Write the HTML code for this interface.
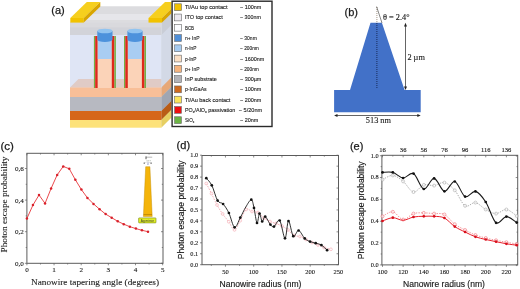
<!DOCTYPE html>
<html><head><meta charset="utf-8"><title>Nanowire figure</title>
<style>
html,body{margin:0;padding:0;background:#fff;}
body{width:520px;height:289px;overflow:hidden;}
svg{display:block;}
</style></head><body>
<svg width="520" height="289" viewBox="0 0 520 289">
<defs><clipPath id="ce"><rect x="381.9" y="155.7" width="135.6" height="109.2"/></clipPath></defs>
<rect width="520" height="289" fill="#fff"/>
<text x="51.3" y="13.6" font-family="'Liberation Sans', Arial, sans-serif" font-size="11.5" fill="#1a1a1a" stroke="#1a1a1a" stroke-width="0.25" textLength="13.5" lengthAdjust="spacingAndGlyphs">(a)</text>
<polygon points="70,22.4 86,6.2 177.3,6.2 161.3,22.4" fill="#dcdcdf"/>
<rect x="78" y="14" width="99.3" height="6" fill="#e6e6ea"/>
<polygon points="161.3,22.4 177.3,6.2 177.3,110 161.3,126.4" fill="#c9cdd6"/>
<polygon points="161.3,35 177.3,19 177.3,72 161.3,88" fill="#d3d9e6"/>
<polygon points="161.3,87.4 177.3,71.4 177.3,81 161.3,97" fill="#e7a878"/>
<polygon points="161.3,97 177.3,81 177.3,95 161.3,111" fill="#a0a6b2"/>
<polygon points="161.3,111 177.3,95 177.3,104 161.3,120" fill="#b95c16"/>
<polygon points="161.3,120 177.3,104 177.3,111.7 161.3,127.7" fill="#e6cf62"/>
<rect x="70" y="22.4" width="91.3" height="12.6" fill="#d2d3d9"/>
<rect x="70" y="22.4" width="91.3" height="5" fill="#d9d9dd"/>
<rect x="70" y="35" width="91.3" height="53" fill="#dfe5f5"/>
<polygon points="70,87.4 78.5,78.9 161.3,78.9 161.3,87.4" fill="#e0cbc6"/>
<rect x="70" y="87.4" width="91.3" height="9.6" fill="#f8bf98"/>
<rect x="70" y="97" width="91.3" height="14" fill="#b7b9c1"/>
<rect x="70" y="111" width="91.3" height="9" fill="#d6661a"/>
<rect x="70" y="120" width="91.3" height="7.7" fill="#fde27a"/>
<rect x="93.9" y="36" width="1.4" height="52" fill="#72b044"/>
<rect x="95.2" y="36" width="2.6" height="52" fill="#e0281a"/>
<rect x="97.8" y="36" width="14" height="52" fill="#fbd3b8"/>
<rect x="97.8" y="36" width="14" height="23" fill="#a9cdf2"/>
<rect x="111.8" y="36" width="2.6" height="52" fill="#e0281a"/>
<rect x="114.4" y="36" width="1.5" height="52" fill="#72b044"/>
<path d="M97.3,31 L97.3,39.5 A7.6,2.6 0 0 0 112.5,39.5 L112.5,31 Z" fill="#4d92dc"/>
<ellipse cx="104.9" cy="31" rx="7.6" ry="2.3" fill="#92c4f0"/>
<rect x="124" y="36" width="1.4" height="52" fill="#72b044"/>
<rect x="125.3" y="36" width="2.6" height="52" fill="#e0281a"/>
<rect x="127.9" y="36" width="14" height="52" fill="#fbd3b8"/>
<rect x="127.9" y="36" width="14" height="23" fill="#a9cdf2"/>
<rect x="141.9" y="36" width="2.6" height="52" fill="#e0281a"/>
<rect x="144.5" y="36" width="1.5" height="52" fill="#72b044"/>
<path d="M127.4,31 L127.4,39.5 A7.6,2.6 0 0 0 142.6,39.5 L142.6,31 Z" fill="#4d92dc"/>
<ellipse cx="135" cy="31" rx="7.6" ry="2.3" fill="#92c4f0"/>
<polygon points="70.3,18 86.8,2 100.3,2 83.8,18" fill="#f6cf1e"/>
<rect x="70.3" y="18" width="13.5" height="4.6" fill="#f1c200"/>
<polygon points="83.8,18 100.3,2 100.3,6.6 83.8,22.6" fill="#d9a500"/>
<polygon points="148.5,18 165,2 178.5,2 162,18" fill="#f6cf1e"/>
<rect x="148.5" y="18" width="13.5" height="4.6" fill="#f1c200"/>
<polygon points="162,18 178.5,2 178.5,6.6 162,22.6" fill="#d9a500"/>
<rect x="171.4" y="-1" width="120" height="140" fill="#ffffff"/>
<rect x="172.1" y="1.2" width="99.9" height="125.3" fill="#ffffff" stroke="#2a2a2a" stroke-width="1.4"/>
<rect x="174.6" y="3.8" width="6.8" height="6.8" fill="#f2c200" stroke="#666" stroke-width="0.6"/>
<text x="185" y="9.2" font-family="'Liberation Sans', Arial, sans-serif" font-size="6.0" fill="#1a1a1a" stroke="#1a1a1a" stroke-width="0.12" textLength="42.5" lengthAdjust="spacingAndGlyphs">Ti/Au top contact</text>
<text x="240" y="9.2" font-family="'Liberation Sans', Arial, sans-serif" font-size="6.0" fill="#1a1a1a" stroke="#1a1a1a" stroke-width="0.12" textLength="21.4" lengthAdjust="spacingAndGlyphs">~ 100nm</text>
<rect x="174.6" y="14.07" width="6.8" height="6.8" fill="#ece8f0" stroke="#666" stroke-width="0.6"/>
<text x="185" y="19.47" font-family="'Liberation Sans', Arial, sans-serif" font-size="6.0" fill="#1a1a1a" stroke="#1a1a1a" stroke-width="0.12" textLength="37.9" lengthAdjust="spacingAndGlyphs">ITO top contact</text>
<text x="240" y="19.47" font-family="'Liberation Sans', Arial, sans-serif" font-size="6.0" fill="#1a1a1a" stroke="#1a1a1a" stroke-width="0.12" textLength="20.9" lengthAdjust="spacingAndGlyphs">~ 300nm</text>
<rect x="174.6" y="24.34" width="6.8" height="6.8" fill="#fbfcff" stroke="#666" stroke-width="0.6"/>
<text x="185" y="29.74" font-family="'Liberation Sans', Arial, sans-serif" font-size="6.0" fill="#1a1a1a" stroke="#1a1a1a" stroke-width="0.12" textLength="9" lengthAdjust="spacingAndGlyphs">BCB</text>
<rect x="174.6" y="34.61" width="6.8" height="6.8" fill="#4f8fd8" stroke="#666" stroke-width="0.6"/>
<text x="185" y="40.01" font-family="'Liberation Sans', Arial, sans-serif" font-size="6.0" fill="#1a1a1a" stroke="#1a1a1a" stroke-width="0.12" textLength="14.6" lengthAdjust="spacingAndGlyphs">n+ InP</text>
<text x="240" y="40.01" font-family="'Liberation Sans', Arial, sans-serif" font-size="6.0" fill="#1a1a1a" stroke="#1a1a1a" stroke-width="0.12" textLength="16.8" lengthAdjust="spacingAndGlyphs">~ 30nm</text>
<rect x="174.6" y="44.88" width="6.8" height="6.8" fill="#a6cbf0" stroke="#666" stroke-width="0.6"/>
<text x="185" y="50.28" font-family="'Liberation Sans', Arial, sans-serif" font-size="6.0" fill="#1a1a1a" stroke="#1a1a1a" stroke-width="0.12" textLength="11.5" lengthAdjust="spacingAndGlyphs">n-InP</text>
<text x="240" y="50.28" font-family="'Liberation Sans', Arial, sans-serif" font-size="6.0" fill="#1a1a1a" stroke="#1a1a1a" stroke-width="0.12" textLength="18.9" lengthAdjust="spacingAndGlyphs">~ 200nm</text>
<rect x="174.6" y="55.15" width="6.8" height="6.8" fill="#fbdfc4" stroke="#666" stroke-width="0.6"/>
<text x="185" y="60.55" font-family="'Liberation Sans', Arial, sans-serif" font-size="6.0" fill="#1a1a1a" stroke="#1a1a1a" stroke-width="0.12" textLength="11.5" lengthAdjust="spacingAndGlyphs">p-InP</text>
<text x="240" y="60.55" font-family="'Liberation Sans', Arial, sans-serif" font-size="6.0" fill="#1a1a1a" stroke="#1a1a1a" stroke-width="0.12" textLength="24.3" lengthAdjust="spacingAndGlyphs">~ 1600nm</text>
<rect x="174.6" y="65.42" width="6.8" height="6.8" fill="#f6b47e" stroke="#666" stroke-width="0.6"/>
<text x="185" y="70.82" font-family="'Liberation Sans', Arial, sans-serif" font-size="6.0" fill="#1a1a1a" stroke="#1a1a1a" stroke-width="0.12" textLength="14.6" lengthAdjust="spacingAndGlyphs">p+ InP</text>
<text x="240" y="70.82" font-family="'Liberation Sans', Arial, sans-serif" font-size="6.0" fill="#1a1a1a" stroke="#1a1a1a" stroke-width="0.12" textLength="18.9" lengthAdjust="spacingAndGlyphs">~ 200nm</text>
<rect x="174.6" y="75.69" width="6.8" height="6.8" fill="#b3b3b8" stroke="#666" stroke-width="0.6"/>
<text x="185" y="81.09" font-family="'Liberation Sans', Arial, sans-serif" font-size="6.0" fill="#1a1a1a" stroke="#1a1a1a" stroke-width="0.12" textLength="31.8" lengthAdjust="spacingAndGlyphs">InP substrate</text>
<text x="240" y="81.09" font-family="'Liberation Sans', Arial, sans-serif" font-size="6.0" fill="#1a1a1a" stroke="#1a1a1a" stroke-width="0.12" textLength="21.4" lengthAdjust="spacingAndGlyphs">~ 300µm</text>
<rect x="174.6" y="85.96" width="6.8" height="6.8" fill="#cf6a1e" stroke="#666" stroke-width="0.6"/>
<text x="185" y="91.36" font-family="'Liberation Sans', Arial, sans-serif" font-size="6.0" fill="#1a1a1a" stroke="#1a1a1a" stroke-width="0.12" textLength="21.7" lengthAdjust="spacingAndGlyphs">p-InGaAs</text>
<text x="240" y="91.36" font-family="'Liberation Sans', Arial, sans-serif" font-size="6.0" fill="#1a1a1a" stroke="#1a1a1a" stroke-width="0.12" textLength="21.4" lengthAdjust="spacingAndGlyphs">~ 100nm</text>
<rect x="174.6" y="96.23" width="6.8" height="6.8" fill="#fbe45a" stroke="#666" stroke-width="0.6"/>
<text x="185" y="101.63" font-family="'Liberation Sans', Arial, sans-serif" font-size="6.0" fill="#1a1a1a" stroke="#1a1a1a" stroke-width="0.12" textLength="45.4" lengthAdjust="spacingAndGlyphs">Ti/Au back contact</text>
<text x="240" y="101.63" font-family="'Liberation Sans', Arial, sans-serif" font-size="6.0" fill="#1a1a1a" stroke="#1a1a1a" stroke-width="0.12" textLength="21.4" lengthAdjust="spacingAndGlyphs">~ 200nm</text>
<rect x="174.6" y="106.5" width="6.8" height="6.8" fill="#ee1010" stroke="#666" stroke-width="0.6"/>
<text x="185" y="111.9" font-family="'Liberation Sans', Arial, sans-serif" font-size="6.0" fill="#1a1a1a" stroke="#1a1a1a" stroke-width="0.12" textLength="50.3" lengthAdjust="spacingAndGlyphs">PO<tspan font-size="4" dy="1.2">x</tspan><tspan dy="-1.2">/AlO</tspan><tspan font-size="4" dy="1.2">x</tspan><tspan dy="-1.2"> passivation</tspan></text>
<text x="238.8" y="111.9" font-family="'Liberation Sans', Arial, sans-serif" font-size="6.0" fill="#1a1a1a" stroke="#1a1a1a" stroke-width="0.12" textLength="23.3" lengthAdjust="spacingAndGlyphs">~ 5/20nm</text>
<rect x="174.6" y="116.77" width="6.8" height="6.8" fill="#6cb444" stroke="#666" stroke-width="0.6"/>
<text x="185" y="122.17" font-family="'Liberation Sans', Arial, sans-serif" font-size="6.0" fill="#1a1a1a" stroke="#1a1a1a" stroke-width="0.12" textLength="9.3" lengthAdjust="spacingAndGlyphs">SiO<tspan font-size="4" dy="1.2">x</tspan></text>
<text x="240" y="122.17" font-family="'Liberation Sans', Arial, sans-serif" font-size="6.0" fill="#1a1a1a" stroke="#1a1a1a" stroke-width="0.12" textLength="18.4" lengthAdjust="spacingAndGlyphs">~ 20nm</text>
<text x="344.5" y="15.6" font-family="'Liberation Sans', Arial, sans-serif" font-size="11.5" fill="#1a1a1a" stroke="#1a1a1a" stroke-width="0.25" textLength="13.5" lengthAdjust="spacingAndGlyphs">(b)</text>
<polygon points="370.5,22.8 381.9,22.8 404.6,90.1 420.7,90.1 420.7,112.2 334.1,112.2 334.1,90.1 350,90.1" fill="#4271c8"/>
<line x1="376.9" y1="7" x2="376.9" y2="23" stroke="#9a8c7c" stroke-width="0.9" stroke-dasharray="1,1"/>
<line x1="376.9" y1="23" x2="376.9" y2="89" stroke="#142450" stroke-width="0.9" stroke-dasharray="1,1"/>
<line x1="376.6" y1="6.6" x2="382" y2="23" stroke="#333" stroke-width="0.6"/>
<text x="383" y="19.5" font-family="'Liberation Serif', 'Times New Roman', serif" font-size="8.3" fill="#1a1a1a" stroke="#1a1a1a" stroke-width="0.15">θ = 2.4°</text>
<line x1="405.5" y1="25" x2="405.5" y2="87" stroke="#222" stroke-width="0.7"/>
<polygon points="404,26.5 405.5,22.8 407,26.5" fill="#222"/>
<polygon points="404,86.5 405.5,90 407,86.5" fill="#222"/>
<text x="407.4" y="60" font-family="'Liberation Serif', 'Times New Roman', serif" font-size="8.3" fill="#1a1a1a" stroke="#1a1a1a" stroke-width="0.12">2 µm</text>
<line x1="336" y1="115.5" x2="419" y2="115.5" stroke="#222" stroke-width="0.7"/>
<polygon points="337.5,114 334.1,115.5 337.5,117" fill="#222"/>
<polygon points="417.3,114 420.7,115.5 417.3,117" fill="#222"/>
<text x="378.4" y="122.8" font-family="'Liberation Serif', 'Times New Roman', serif" font-size="8.3" fill="#1a1a1a" stroke="#1a1a1a" stroke-width="0.12" text-anchor="middle">513 nm</text>
<text x="0.4" y="150.05" font-family="'Liberation Sans', Arial, sans-serif" font-size="11.5" fill="#1a1a1a" stroke="#1a1a1a" stroke-width="0.25" textLength="13.5" lengthAdjust="spacingAndGlyphs">(c)</text>
<rect x="26.9" y="153.3" width="136.1" height="110" fill="none" stroke="#5c5c5c" stroke-width="1"/>
<line x1="26.9" y1="263.3" x2="26.9" y2="265.3" stroke="#5c5c5c" stroke-width="0.7"/>
<line x1="26.9" y1="153.3" x2="26.9" y2="155.3" stroke="#5c5c5c" stroke-width="0.7"/>
<line x1="40.47" y1="263.3" x2="40.47" y2="264.5" stroke="#5c5c5c" stroke-width="0.7"/>
<line x1="40.47" y1="153.3" x2="40.47" y2="154.5" stroke="#5c5c5c" stroke-width="0.7"/>
<line x1="54.05" y1="263.3" x2="54.05" y2="265.3" stroke="#5c5c5c" stroke-width="0.7"/>
<line x1="54.05" y1="153.3" x2="54.05" y2="155.3" stroke="#5c5c5c" stroke-width="0.7"/>
<line x1="67.62" y1="263.3" x2="67.62" y2="264.5" stroke="#5c5c5c" stroke-width="0.7"/>
<line x1="67.62" y1="153.3" x2="67.62" y2="154.5" stroke="#5c5c5c" stroke-width="0.7"/>
<line x1="81.2" y1="263.3" x2="81.2" y2="265.3" stroke="#5c5c5c" stroke-width="0.7"/>
<line x1="81.2" y1="153.3" x2="81.2" y2="155.3" stroke="#5c5c5c" stroke-width="0.7"/>
<line x1="94.78" y1="263.3" x2="94.78" y2="264.5" stroke="#5c5c5c" stroke-width="0.7"/>
<line x1="94.78" y1="153.3" x2="94.78" y2="154.5" stroke="#5c5c5c" stroke-width="0.7"/>
<line x1="108.35" y1="263.3" x2="108.35" y2="265.3" stroke="#5c5c5c" stroke-width="0.7"/>
<line x1="108.35" y1="153.3" x2="108.35" y2="155.3" stroke="#5c5c5c" stroke-width="0.7"/>
<line x1="121.92" y1="263.3" x2="121.92" y2="264.5" stroke="#5c5c5c" stroke-width="0.7"/>
<line x1="121.92" y1="153.3" x2="121.92" y2="154.5" stroke="#5c5c5c" stroke-width="0.7"/>
<line x1="135.5" y1="263.3" x2="135.5" y2="265.3" stroke="#5c5c5c" stroke-width="0.7"/>
<line x1="135.5" y1="153.3" x2="135.5" y2="155.3" stroke="#5c5c5c" stroke-width="0.7"/>
<line x1="149.07" y1="263.3" x2="149.07" y2="264.5" stroke="#5c5c5c" stroke-width="0.7"/>
<line x1="149.07" y1="153.3" x2="149.07" y2="154.5" stroke="#5c5c5c" stroke-width="0.7"/>
<line x1="162.65" y1="263.3" x2="162.65" y2="265.3" stroke="#5c5c5c" stroke-width="0.7"/>
<line x1="162.65" y1="153.3" x2="162.65" y2="155.3" stroke="#5c5c5c" stroke-width="0.7"/>
<line x1="24.9" y1="263.3" x2="26.9" y2="263.3" stroke="#5c5c5c" stroke-width="0.7"/>
<line x1="161" y1="263.3" x2="163" y2="263.3" stroke="#5c5c5c" stroke-width="0.7"/>
<line x1="25.7" y1="247.5" x2="26.9" y2="247.5" stroke="#5c5c5c" stroke-width="0.7"/>
<line x1="161.8" y1="247.5" x2="163" y2="247.5" stroke="#5c5c5c" stroke-width="0.7"/>
<line x1="24.9" y1="231.7" x2="26.9" y2="231.7" stroke="#5c5c5c" stroke-width="0.7"/>
<line x1="161" y1="231.7" x2="163" y2="231.7" stroke="#5c5c5c" stroke-width="0.7"/>
<line x1="25.7" y1="215.9" x2="26.9" y2="215.9" stroke="#5c5c5c" stroke-width="0.7"/>
<line x1="161.8" y1="215.9" x2="163" y2="215.9" stroke="#5c5c5c" stroke-width="0.7"/>
<line x1="24.9" y1="200.1" x2="26.9" y2="200.1" stroke="#5c5c5c" stroke-width="0.7"/>
<line x1="161" y1="200.1" x2="163" y2="200.1" stroke="#5c5c5c" stroke-width="0.7"/>
<line x1="25.7" y1="184.3" x2="26.9" y2="184.3" stroke="#5c5c5c" stroke-width="0.7"/>
<line x1="161.8" y1="184.3" x2="163" y2="184.3" stroke="#5c5c5c" stroke-width="0.7"/>
<line x1="24.9" y1="168.5" x2="26.9" y2="168.5" stroke="#5c5c5c" stroke-width="0.7"/>
<line x1="161" y1="168.5" x2="163" y2="168.5" stroke="#5c5c5c" stroke-width="0.7"/>
<text x="26.9" y="272.4" font-family="'Liberation Serif', 'Times New Roman', serif" font-size="7.1" fill="#111" stroke="#111" stroke-width="0.1" text-anchor="middle">0</text>
<text x="54.05" y="272.4" font-family="'Liberation Serif', 'Times New Roman', serif" font-size="7.1" fill="#111" stroke="#111" stroke-width="0.1" text-anchor="middle">1</text>
<text x="81.2" y="272.4" font-family="'Liberation Serif', 'Times New Roman', serif" font-size="7.1" fill="#111" stroke="#111" stroke-width="0.1" text-anchor="middle">2</text>
<text x="108.35" y="272.4" font-family="'Liberation Serif', 'Times New Roman', serif" font-size="7.1" fill="#111" stroke="#111" stroke-width="0.1" text-anchor="middle">3</text>
<text x="135.5" y="272.4" font-family="'Liberation Serif', 'Times New Roman', serif" font-size="7.1" fill="#111" stroke="#111" stroke-width="0.1" text-anchor="middle">4</text>
<text x="162.65" y="272.4" font-family="'Liberation Serif', 'Times New Roman', serif" font-size="7.1" fill="#111" stroke="#111" stroke-width="0.1" text-anchor="middle">5</text>
<text x="23.9" y="265.8" font-family="'Liberation Serif', 'Times New Roman', serif" font-size="7.1" fill="#111" stroke="#111" stroke-width="0.1" text-anchor="end">0,0</text>
<text x="23.9" y="234.2" font-family="'Liberation Serif', 'Times New Roman', serif" font-size="7.1" fill="#111" stroke="#111" stroke-width="0.1" text-anchor="end">0,2</text>
<text x="23.9" y="202.6" font-family="'Liberation Serif', 'Times New Roman', serif" font-size="7.1" fill="#111" stroke="#111" stroke-width="0.1" text-anchor="end">0,4</text>
<text x="23.9" y="171" font-family="'Liberation Serif', 'Times New Roman', serif" font-size="7.1" fill="#111" stroke="#111" stroke-width="0.1" text-anchor="end">0,6</text>
<text x="95" y="285.2" font-family="'Liberation Serif', 'Times New Roman', serif" font-size="9.24" fill="#1a1a1a" stroke="#1a1a1a" stroke-width="0.1" text-anchor="middle">Nanowire tapering angle (degrees)</text>
<text transform="translate(6.6,204.5) rotate(-90)" font-family="'Liberation Serif', 'Times New Roman', serif" font-size="9.24" fill="#1a1a1a" stroke="#1a1a1a" stroke-width="0.1" text-anchor="middle">Photon escape probability</text>
<polyline points="26.9,218.5 32.95,205.1 39.01,195 45.06,203.4 51.12,188.4 57.17,174.9 63.23,166.4 69.28,168.8 75.34,179.7 81.39,189.6 87.45,197.9 93.5,203.9 99.56,209.2 105.62,214.1 111.67,217.7 117.72,221.3 123.78,224.2 129.84,226.7 135.89,228.6 141.94,230.3 148,231.7" fill="none" stroke="#e8353a" stroke-width="0.9"/>
<circle cx="26.9" cy="218.5" r="1.25" fill="#d8202a"/>
<circle cx="32.95" cy="205.1" r="1.25" fill="#d8202a"/>
<circle cx="39.01" cy="195" r="1.25" fill="#d8202a"/>
<circle cx="45.06" cy="203.4" r="1.25" fill="#d8202a"/>
<circle cx="51.12" cy="188.4" r="1.25" fill="#d8202a"/>
<circle cx="57.17" cy="174.9" r="1.25" fill="#d8202a"/>
<circle cx="63.23" cy="166.4" r="1.25" fill="#d8202a"/>
<circle cx="69.28" cy="168.8" r="1.25" fill="#d8202a"/>
<circle cx="75.34" cy="179.7" r="1.25" fill="#d8202a"/>
<circle cx="81.39" cy="189.6" r="1.25" fill="#d8202a"/>
<circle cx="87.45" cy="197.9" r="1.25" fill="#d8202a"/>
<circle cx="93.5" cy="203.9" r="1.25" fill="#d8202a"/>
<circle cx="99.56" cy="209.2" r="1.25" fill="#d8202a"/>
<circle cx="105.62" cy="214.1" r="1.25" fill="#d8202a"/>
<circle cx="111.67" cy="217.7" r="1.25" fill="#d8202a"/>
<circle cx="117.72" cy="221.3" r="1.25" fill="#d8202a"/>
<circle cx="123.78" cy="224.2" r="1.25" fill="#d8202a"/>
<circle cx="129.84" cy="226.7" r="1.25" fill="#d8202a"/>
<circle cx="135.89" cy="228.6" r="1.25" fill="#d8202a"/>
<circle cx="141.94" cy="230.3" r="1.25" fill="#d8202a"/>
<circle cx="148" cy="231.7" r="1.25" fill="#d8202a"/>
<polygon points="145.7,166.7 149.9,166.7 152.2,216.6 143.4,216.6" fill="#f4b40a" stroke="#c08a00" stroke-width="0.45"/>
<line x1="143.6" y1="214.6" x2="152" y2="214.6" stroke="#a06c00" stroke-width="0.6"/>
<rect x="138.6" y="217.9" width="17.4" height="5.0" rx="0.6" fill="#e0ee28" stroke="#6c7a10" stroke-width="0.55"/>
<text x="147.3" y="221.6" font-family="'Liberation Sans', Arial, sans-serif" font-size="3.6" fill="#333" text-anchor="middle" textLength="13" lengthAdjust="spacingAndGlyphs">Ag mirror</text>
<line x1="146" y1="157.2" x2="152.2" y2="157.2" stroke="#888" stroke-width="0.6"/>
<line x1="146" y1="156.4" x2="146" y2="159.2" stroke="#444" stroke-width="0.9"/>
<line x1="146.6" y1="160.7" x2="151.4" y2="160.7" stroke="#9aa69a" stroke-width="0.7" stroke-dasharray="1,0.6"/>
<path d="M144.2,163.1 Q147.7,160.2 151.1,163.1" fill="none" stroke="#bbb" stroke-width="0.4"/>
<circle cx="144.2" cy="163.1" r="0.7" fill="#333"/>
<circle cx="151.1" cy="163.1" r="0.7" fill="#333"/>
<text x="147.8" y="165" font-family="'Liberation Serif', 'Times New Roman', serif" font-size="3.4" fill="#6070b0" text-anchor="middle">θ</text>
<text x="176.6" y="149.05" font-family="'Liberation Sans', Arial, sans-serif" font-size="11.5" fill="#1a1a1a" stroke="#1a1a1a" stroke-width="0.25" textLength="13.5" lengthAdjust="spacingAndGlyphs">(d)</text>
<rect x="202" y="155.5" width="136.5" height="109.2" fill="none" stroke="#5c5c5c" stroke-width="1"/>
<line x1="211.32" y1="264.7" x2="211.32" y2="265.9" stroke="#5c5c5c" stroke-width="0.7"/>
<line x1="211.32" y1="155.5" x2="211.32" y2="156.7" stroke="#5c5c5c" stroke-width="0.7"/>
<line x1="225.45" y1="264.7" x2="225.45" y2="266.7" stroke="#5c5c5c" stroke-width="0.7"/>
<line x1="225.45" y1="155.5" x2="225.45" y2="157.5" stroke="#5c5c5c" stroke-width="0.7"/>
<line x1="239.57" y1="264.7" x2="239.57" y2="265.9" stroke="#5c5c5c" stroke-width="0.7"/>
<line x1="239.57" y1="155.5" x2="239.57" y2="156.7" stroke="#5c5c5c" stroke-width="0.7"/>
<line x1="253.7" y1="264.7" x2="253.7" y2="266.7" stroke="#5c5c5c" stroke-width="0.7"/>
<line x1="253.7" y1="155.5" x2="253.7" y2="157.5" stroke="#5c5c5c" stroke-width="0.7"/>
<line x1="267.82" y1="264.7" x2="267.82" y2="265.9" stroke="#5c5c5c" stroke-width="0.7"/>
<line x1="267.82" y1="155.5" x2="267.82" y2="156.7" stroke="#5c5c5c" stroke-width="0.7"/>
<line x1="281.95" y1="264.7" x2="281.95" y2="266.7" stroke="#5c5c5c" stroke-width="0.7"/>
<line x1="281.95" y1="155.5" x2="281.95" y2="157.5" stroke="#5c5c5c" stroke-width="0.7"/>
<line x1="296.07" y1="264.7" x2="296.07" y2="265.9" stroke="#5c5c5c" stroke-width="0.7"/>
<line x1="296.07" y1="155.5" x2="296.07" y2="156.7" stroke="#5c5c5c" stroke-width="0.7"/>
<line x1="310.2" y1="264.7" x2="310.2" y2="266.7" stroke="#5c5c5c" stroke-width="0.7"/>
<line x1="310.2" y1="155.5" x2="310.2" y2="157.5" stroke="#5c5c5c" stroke-width="0.7"/>
<line x1="324.32" y1="264.7" x2="324.32" y2="265.9" stroke="#5c5c5c" stroke-width="0.7"/>
<line x1="324.32" y1="155.5" x2="324.32" y2="156.7" stroke="#5c5c5c" stroke-width="0.7"/>
<line x1="200" y1="264.7" x2="202" y2="264.7" stroke="#5c5c5c" stroke-width="0.7"/>
<line x1="336.5" y1="264.7" x2="338.5" y2="264.7" stroke="#5c5c5c" stroke-width="0.7"/>
<text x="198.2" y="266.6" font-family="'Liberation Serif', 'Times New Roman', serif" font-size="6.3" fill="#111" stroke="#111" stroke-width="0.1" text-anchor="end">0.0</text>
<line x1="200" y1="253.75" x2="202" y2="253.75" stroke="#5c5c5c" stroke-width="0.7"/>
<line x1="336.5" y1="253.75" x2="338.5" y2="253.75" stroke="#5c5c5c" stroke-width="0.7"/>
<text x="198.2" y="255.65" font-family="'Liberation Serif', 'Times New Roman', serif" font-size="6.3" fill="#111" stroke="#111" stroke-width="0.1" text-anchor="end">0.1</text>
<line x1="200" y1="242.8" x2="202" y2="242.8" stroke="#5c5c5c" stroke-width="0.7"/>
<line x1="336.5" y1="242.8" x2="338.5" y2="242.8" stroke="#5c5c5c" stroke-width="0.7"/>
<text x="198.2" y="244.7" font-family="'Liberation Serif', 'Times New Roman', serif" font-size="6.3" fill="#111" stroke="#111" stroke-width="0.1" text-anchor="end">0.2</text>
<line x1="200" y1="231.85" x2="202" y2="231.85" stroke="#5c5c5c" stroke-width="0.7"/>
<line x1="336.5" y1="231.85" x2="338.5" y2="231.85" stroke="#5c5c5c" stroke-width="0.7"/>
<text x="198.2" y="233.75" font-family="'Liberation Serif', 'Times New Roman', serif" font-size="6.3" fill="#111" stroke="#111" stroke-width="0.1" text-anchor="end">0.3</text>
<line x1="200" y1="220.9" x2="202" y2="220.9" stroke="#5c5c5c" stroke-width="0.7"/>
<line x1="336.5" y1="220.9" x2="338.5" y2="220.9" stroke="#5c5c5c" stroke-width="0.7"/>
<text x="198.2" y="222.8" font-family="'Liberation Serif', 'Times New Roman', serif" font-size="6.3" fill="#111" stroke="#111" stroke-width="0.1" text-anchor="end">0.4</text>
<line x1="200" y1="209.95" x2="202" y2="209.95" stroke="#5c5c5c" stroke-width="0.7"/>
<line x1="336.5" y1="209.95" x2="338.5" y2="209.95" stroke="#5c5c5c" stroke-width="0.7"/>
<text x="198.2" y="211.85" font-family="'Liberation Serif', 'Times New Roman', serif" font-size="6.3" fill="#111" stroke="#111" stroke-width="0.1" text-anchor="end">0.5</text>
<line x1="200" y1="199" x2="202" y2="199" stroke="#5c5c5c" stroke-width="0.7"/>
<line x1="336.5" y1="199" x2="338.5" y2="199" stroke="#5c5c5c" stroke-width="0.7"/>
<text x="198.2" y="200.9" font-family="'Liberation Serif', 'Times New Roman', serif" font-size="6.3" fill="#111" stroke="#111" stroke-width="0.1" text-anchor="end">0.6</text>
<line x1="200" y1="188.05" x2="202" y2="188.05" stroke="#5c5c5c" stroke-width="0.7"/>
<line x1="336.5" y1="188.05" x2="338.5" y2="188.05" stroke="#5c5c5c" stroke-width="0.7"/>
<text x="198.2" y="189.95" font-family="'Liberation Serif', 'Times New Roman', serif" font-size="6.3" fill="#111" stroke="#111" stroke-width="0.1" text-anchor="end">0.7</text>
<line x1="200" y1="177.1" x2="202" y2="177.1" stroke="#5c5c5c" stroke-width="0.7"/>
<line x1="336.5" y1="177.1" x2="338.5" y2="177.1" stroke="#5c5c5c" stroke-width="0.7"/>
<text x="198.2" y="179" font-family="'Liberation Serif', 'Times New Roman', serif" font-size="6.3" fill="#111" stroke="#111" stroke-width="0.1" text-anchor="end">0.8</text>
<line x1="200" y1="166.15" x2="202" y2="166.15" stroke="#5c5c5c" stroke-width="0.7"/>
<line x1="336.5" y1="166.15" x2="338.5" y2="166.15" stroke="#5c5c5c" stroke-width="0.7"/>
<text x="198.2" y="168.05" font-family="'Liberation Serif', 'Times New Roman', serif" font-size="6.3" fill="#111" stroke="#111" stroke-width="0.1" text-anchor="end">0.9</text>
<line x1="200" y1="155.2" x2="202" y2="155.2" stroke="#5c5c5c" stroke-width="0.7"/>
<line x1="336.5" y1="155.2" x2="338.5" y2="155.2" stroke="#5c5c5c" stroke-width="0.7"/>
<text x="198.2" y="157.1" font-family="'Liberation Serif', 'Times New Roman', serif" font-size="6.3" fill="#111" stroke="#111" stroke-width="0.1" text-anchor="end">1.0</text>
<text x="225.45" y="273.7" font-family="'Liberation Serif', 'Times New Roman', serif" font-size="6.5" fill="#111" stroke="#111" stroke-width="0.1" text-anchor="middle">50</text>
<text x="253.7" y="273.7" font-family="'Liberation Serif', 'Times New Roman', serif" font-size="6.5" fill="#111" stroke="#111" stroke-width="0.1" text-anchor="middle">100</text>
<text x="281.95" y="273.7" font-family="'Liberation Serif', 'Times New Roman', serif" font-size="6.5" fill="#111" stroke="#111" stroke-width="0.1" text-anchor="middle">150</text>
<text x="310.2" y="273.7" font-family="'Liberation Serif', 'Times New Roman', serif" font-size="6.5" fill="#111" stroke="#111" stroke-width="0.1" text-anchor="middle">200</text>
<text x="338.45" y="273.7" font-family="'Liberation Serif', 'Times New Roman', serif" font-size="6.5" fill="#111" stroke="#111" stroke-width="0.1" text-anchor="middle">250</text>
<text x="260.5" y="287" font-family="'Liberation Sans', Arial, sans-serif" font-size="8.57" fill="#1a1a1a" stroke="#1a1a1a" stroke-width="0.15" text-anchor="middle">Nanowire radius (nm)</text>
<text transform="translate(183.8,209.8) rotate(-90)" font-family="'Liberation Sans', Arial, sans-serif" font-size="8.59" fill="#1a1a1a" stroke="#1a1a1a" stroke-width="0.15" text-anchor="middle">Photon escape probability</text>
<path d="M206.3,183.5 C207.17,185.18 209.72,190.03 211.5,193.6 C213.28,197.17 215.15,201.52 217,204.9 C218.85,208.28 220.63,211.08 222.6,213.9 C224.57,216.72 226.82,219.13 228.8,221.8 C230.78,224.47 232.6,230.08 234.5,229.9 C236.4,229.72 238.25,224.12 240.2,220.7 C242.15,217.28 244.23,210.93 246.2,209.4 C248.17,207.87 250.03,210.98 252,211.5 C253.97,212.02 256,211.42 258,212.5 C260,213.58 262,216.5 264,218 C266,219.5 268,220.58 270,221.5 C272,222.42 274,222.75 276,223.5 C278,224.25 280,224.92 282,226 C284,227.08 286,228.42 288,230 C290,231.58 292,234.42 294,235.5 C296,236.58 298,235.83 300,236.5 C302,237.17 304,238.5 306,239.5 C308,240.5 310,241.58 312,242.5 C314,243.42 316,244.17 318,245 C320,245.83 321.85,246.78 324,247.5 C326.15,248.22 329.75,249 330.9,249.3" fill="none" stroke="#f0a0a8" stroke-width="0.8" stroke-dasharray="1.6,1.2"/>
<circle cx="206.3" cy="183.5" r="1.4" fill="#fff" fill-opacity="0.6" stroke="#f4a0a8" stroke-width="0.55"/>
<circle cx="211.5" cy="193.6" r="1.4" fill="#fff" fill-opacity="0.6" stroke="#f4a0a8" stroke-width="0.55"/>
<circle cx="217" cy="204.9" r="1.4" fill="#fff" fill-opacity="0.6" stroke="#f4a0a8" stroke-width="0.55"/>
<circle cx="222.6" cy="213.9" r="1.4" fill="#fff" fill-opacity="0.6" stroke="#f4a0a8" stroke-width="0.55"/>
<circle cx="228.8" cy="221.8" r="1.4" fill="#fff" fill-opacity="0.6" stroke="#f4a0a8" stroke-width="0.55"/>
<circle cx="234.5" cy="229.9" r="1.4" fill="#fff" fill-opacity="0.6" stroke="#f4a0a8" stroke-width="0.55"/>
<circle cx="240.2" cy="220.7" r="1.4" fill="#fff" fill-opacity="0.6" stroke="#f4a0a8" stroke-width="0.55"/>
<circle cx="246.2" cy="209.4" r="1.4" fill="#fff" fill-opacity="0.6" stroke="#f4a0a8" stroke-width="0.55"/>
<circle cx="252" cy="211.5" r="1.4" fill="#fff" fill-opacity="0.6" stroke="#f4a0a8" stroke-width="0.55"/>
<circle cx="258" cy="212.5" r="1.4" fill="#fff" fill-opacity="0.6" stroke="#f4a0a8" stroke-width="0.55"/>
<circle cx="264" cy="218" r="1.4" fill="#fff" fill-opacity="0.6" stroke="#f4a0a8" stroke-width="0.55"/>
<circle cx="270" cy="221.5" r="1.4" fill="#fff" fill-opacity="0.6" stroke="#f4a0a8" stroke-width="0.55"/>
<circle cx="276" cy="223.5" r="1.4" fill="#fff" fill-opacity="0.6" stroke="#f4a0a8" stroke-width="0.55"/>
<circle cx="282" cy="226" r="1.4" fill="#fff" fill-opacity="0.6" stroke="#f4a0a8" stroke-width="0.55"/>
<circle cx="288" cy="230" r="1.4" fill="#fff" fill-opacity="0.6" stroke="#f4a0a8" stroke-width="0.55"/>
<circle cx="294" cy="235.5" r="1.4" fill="#fff" fill-opacity="0.6" stroke="#f4a0a8" stroke-width="0.55"/>
<circle cx="300" cy="236.5" r="1.4" fill="#fff" fill-opacity="0.6" stroke="#f4a0a8" stroke-width="0.55"/>
<circle cx="306" cy="239.5" r="1.4" fill="#fff" fill-opacity="0.6" stroke="#f4a0a8" stroke-width="0.55"/>
<circle cx="312" cy="242.5" r="1.4" fill="#fff" fill-opacity="0.6" stroke="#f4a0a8" stroke-width="0.55"/>
<circle cx="318" cy="245" r="1.4" fill="#fff" fill-opacity="0.6" stroke="#f4a0a8" stroke-width="0.55"/>
<circle cx="324" cy="247.5" r="1.4" fill="#fff" fill-opacity="0.6" stroke="#f4a0a8" stroke-width="0.55"/>
<circle cx="330.9" cy="249.3" r="1.4" fill="#fff" fill-opacity="0.6" stroke="#f4a0a8" stroke-width="0.55"/>
<path d="M206.3,178.2 C207.22,179.38 209.92,181.57 211.8,185.3 C213.68,189.03 215.72,197.48 217.6,200.6 C219.48,203.72 221.22,201.93 223.1,204 C224.98,206.07 226.98,209.12 228.9,213 C230.82,216.88 232.7,226.53 234.6,227.3 C236.5,228.07 238.43,220.98 240.3,217.6 C242.17,214.22 243.97,209.98 245.8,207 C247.63,204.02 249.93,199.55 251.3,199.7 C252.67,199.85 253.05,204.02 254,207.9 C254.95,211.78 256.08,222.05 257,223 C257.92,223.95 258.63,213.85 259.5,213.6 C260.37,213.35 261.25,221 262.2,221.5 C263.15,222 263.83,216.08 265.2,216.6 C266.57,217.12 268.93,222.93 270.4,224.6 C271.87,226.27 272.45,227.28 274,226.6 C275.55,225.92 277.87,218.55 279.7,220.5 C281.53,222.45 283.53,238.22 285,238.3 C286.47,238.38 287.12,221.35 288.5,221 C289.88,220.65 291.62,234.62 293.3,236.2 C294.98,237.78 296.7,230.13 298.6,230.5 C300.5,230.87 302.8,236.55 304.7,238.4 C306.6,240.25 308.17,240.8 310,241.6 C311.83,242.4 313.8,242.62 315.7,243.2 C317.6,243.78 319.5,243.93 321.4,245.1 C323.3,246.27 326.15,249.35 327.1,250.2" fill="none" stroke="#1a1a1a" stroke-width="0.9"/>
<circle cx="206.3" cy="178.2" r="1.35" fill="#111"/>
<circle cx="211.8" cy="185.3" r="1.35" fill="#111"/>
<circle cx="217.6" cy="200.6" r="1.35" fill="#111"/>
<circle cx="223.1" cy="204" r="1.35" fill="#111"/>
<circle cx="228.9" cy="213" r="1.35" fill="#111"/>
<circle cx="234.6" cy="227.3" r="1.35" fill="#111"/>
<circle cx="240.3" cy="217.6" r="1.35" fill="#111"/>
<circle cx="251.3" cy="199.7" r="1.35" fill="#111"/>
<circle cx="254" cy="207.9" r="1.35" fill="#111"/>
<circle cx="257" cy="223" r="1.35" fill="#111"/>
<circle cx="259.5" cy="213.6" r="1.35" fill="#111"/>
<circle cx="262.2" cy="221.5" r="1.35" fill="#111"/>
<circle cx="265.2" cy="216.6" r="1.35" fill="#111"/>
<circle cx="270.4" cy="224.6" r="1.35" fill="#111"/>
<circle cx="274" cy="226.6" r="1.35" fill="#111"/>
<circle cx="279.7" cy="220.5" r="1.35" fill="#111"/>
<circle cx="285" cy="238.3" r="1.35" fill="#111"/>
<circle cx="288.5" cy="221" r="1.35" fill="#111"/>
<circle cx="293.3" cy="236.2" r="1.35" fill="#111"/>
<circle cx="298.6" cy="230.5" r="1.35" fill="#111"/>
<circle cx="304.7" cy="238.4" r="1.35" fill="#111"/>
<circle cx="310" cy="241.6" r="1.35" fill="#111"/>
<circle cx="315.7" cy="243.2" r="1.35" fill="#111"/>
<circle cx="321.4" cy="245.1" r="1.35" fill="#111"/>
<circle cx="327.1" cy="250.2" r="1.35" fill="#111"/>
<text x="349.9" y="150.25" font-family="'Liberation Sans', Arial, sans-serif" font-size="11.5" fill="#1a1a1a" stroke="#1a1a1a" stroke-width="0.25" textLength="13.5" lengthAdjust="spacingAndGlyphs">(e)</text>
<rect x="381.9" y="155.3" width="135.8" height="109.6" fill="none" stroke="#5c5c5c" stroke-width="1"/>
<line x1="382.5" y1="264.9" x2="382.5" y2="266.9" stroke="#5c5c5c" stroke-width="0.7"/>
<line x1="382.5" y1="155.3" x2="382.5" y2="157.3" stroke="#5c5c5c" stroke-width="0.7"/>
<line x1="392.82" y1="264.9" x2="392.82" y2="266.1" stroke="#5c5c5c" stroke-width="0.7"/>
<line x1="392.82" y1="155.3" x2="392.82" y2="156.5" stroke="#5c5c5c" stroke-width="0.7"/>
<line x1="403.15" y1="264.9" x2="403.15" y2="266.9" stroke="#5c5c5c" stroke-width="0.7"/>
<line x1="403.15" y1="155.3" x2="403.15" y2="157.3" stroke="#5c5c5c" stroke-width="0.7"/>
<line x1="413.48" y1="264.9" x2="413.48" y2="266.1" stroke="#5c5c5c" stroke-width="0.7"/>
<line x1="413.48" y1="155.3" x2="413.48" y2="156.5" stroke="#5c5c5c" stroke-width="0.7"/>
<line x1="423.8" y1="264.9" x2="423.8" y2="266.9" stroke="#5c5c5c" stroke-width="0.7"/>
<line x1="423.8" y1="155.3" x2="423.8" y2="157.3" stroke="#5c5c5c" stroke-width="0.7"/>
<line x1="434.12" y1="264.9" x2="434.12" y2="266.1" stroke="#5c5c5c" stroke-width="0.7"/>
<line x1="434.12" y1="155.3" x2="434.12" y2="156.5" stroke="#5c5c5c" stroke-width="0.7"/>
<line x1="444.45" y1="264.9" x2="444.45" y2="266.9" stroke="#5c5c5c" stroke-width="0.7"/>
<line x1="444.45" y1="155.3" x2="444.45" y2="157.3" stroke="#5c5c5c" stroke-width="0.7"/>
<line x1="454.77" y1="264.9" x2="454.77" y2="266.1" stroke="#5c5c5c" stroke-width="0.7"/>
<line x1="454.77" y1="155.3" x2="454.77" y2="156.5" stroke="#5c5c5c" stroke-width="0.7"/>
<line x1="465.1" y1="264.9" x2="465.1" y2="266.9" stroke="#5c5c5c" stroke-width="0.7"/>
<line x1="465.1" y1="155.3" x2="465.1" y2="157.3" stroke="#5c5c5c" stroke-width="0.7"/>
<line x1="475.43" y1="264.9" x2="475.43" y2="266.1" stroke="#5c5c5c" stroke-width="0.7"/>
<line x1="475.43" y1="155.3" x2="475.43" y2="156.5" stroke="#5c5c5c" stroke-width="0.7"/>
<line x1="485.75" y1="264.9" x2="485.75" y2="266.9" stroke="#5c5c5c" stroke-width="0.7"/>
<line x1="485.75" y1="155.3" x2="485.75" y2="157.3" stroke="#5c5c5c" stroke-width="0.7"/>
<line x1="496.07" y1="264.9" x2="496.07" y2="266.1" stroke="#5c5c5c" stroke-width="0.7"/>
<line x1="496.07" y1="155.3" x2="496.07" y2="156.5" stroke="#5c5c5c" stroke-width="0.7"/>
<line x1="506.4" y1="264.9" x2="506.4" y2="266.9" stroke="#5c5c5c" stroke-width="0.7"/>
<line x1="506.4" y1="155.3" x2="506.4" y2="157.3" stroke="#5c5c5c" stroke-width="0.7"/>
<line x1="516.73" y1="264.9" x2="516.73" y2="266.1" stroke="#5c5c5c" stroke-width="0.7"/>
<line x1="516.73" y1="155.3" x2="516.73" y2="156.5" stroke="#5c5c5c" stroke-width="0.7"/>
<line x1="379.9" y1="264.9" x2="381.9" y2="264.9" stroke="#5c5c5c" stroke-width="0.7"/>
<line x1="515.7" y1="264.9" x2="517.7" y2="264.9" stroke="#5c5c5c" stroke-width="0.7"/>
<line x1="380.7" y1="253.98" x2="381.9" y2="253.98" stroke="#5c5c5c" stroke-width="0.7"/>
<line x1="516.5" y1="253.98" x2="517.7" y2="253.98" stroke="#5c5c5c" stroke-width="0.7"/>
<line x1="379.9" y1="243.06" x2="381.9" y2="243.06" stroke="#5c5c5c" stroke-width="0.7"/>
<line x1="515.7" y1="243.06" x2="517.7" y2="243.06" stroke="#5c5c5c" stroke-width="0.7"/>
<line x1="380.7" y1="232.14" x2="381.9" y2="232.14" stroke="#5c5c5c" stroke-width="0.7"/>
<line x1="516.5" y1="232.14" x2="517.7" y2="232.14" stroke="#5c5c5c" stroke-width="0.7"/>
<line x1="379.9" y1="221.22" x2="381.9" y2="221.22" stroke="#5c5c5c" stroke-width="0.7"/>
<line x1="515.7" y1="221.22" x2="517.7" y2="221.22" stroke="#5c5c5c" stroke-width="0.7"/>
<line x1="380.7" y1="210.3" x2="381.9" y2="210.3" stroke="#5c5c5c" stroke-width="0.7"/>
<line x1="516.5" y1="210.3" x2="517.7" y2="210.3" stroke="#5c5c5c" stroke-width="0.7"/>
<line x1="379.9" y1="199.38" x2="381.9" y2="199.38" stroke="#5c5c5c" stroke-width="0.7"/>
<line x1="515.7" y1="199.38" x2="517.7" y2="199.38" stroke="#5c5c5c" stroke-width="0.7"/>
<line x1="380.7" y1="188.46" x2="381.9" y2="188.46" stroke="#5c5c5c" stroke-width="0.7"/>
<line x1="516.5" y1="188.46" x2="517.7" y2="188.46" stroke="#5c5c5c" stroke-width="0.7"/>
<line x1="379.9" y1="177.54" x2="381.9" y2="177.54" stroke="#5c5c5c" stroke-width="0.7"/>
<line x1="515.7" y1="177.54" x2="517.7" y2="177.54" stroke="#5c5c5c" stroke-width="0.7"/>
<line x1="380.7" y1="166.62" x2="381.9" y2="166.62" stroke="#5c5c5c" stroke-width="0.7"/>
<line x1="516.5" y1="166.62" x2="517.7" y2="166.62" stroke="#5c5c5c" stroke-width="0.7"/>
<line x1="379.9" y1="155.7" x2="381.9" y2="155.7" stroke="#5c5c5c" stroke-width="0.7"/>
<line x1="515.7" y1="155.7" x2="517.7" y2="155.7" stroke="#5c5c5c" stroke-width="0.7"/>
<text x="378.7" y="266.8" font-family="'Liberation Serif', 'Times New Roman', serif" font-size="6.3" fill="#111" stroke="#111" stroke-width="0.1" text-anchor="end">0.0</text>
<text x="378.7" y="244.96" font-family="'Liberation Serif', 'Times New Roman', serif" font-size="6.3" fill="#111" stroke="#111" stroke-width="0.1" text-anchor="end">0.2</text>
<text x="378.7" y="223.12" font-family="'Liberation Serif', 'Times New Roman', serif" font-size="6.3" fill="#111" stroke="#111" stroke-width="0.1" text-anchor="end">0.4</text>
<text x="378.7" y="201.28" font-family="'Liberation Serif', 'Times New Roman', serif" font-size="6.3" fill="#111" stroke="#111" stroke-width="0.1" text-anchor="end">0.6</text>
<text x="378.7" y="179.44" font-family="'Liberation Serif', 'Times New Roman', serif" font-size="6.3" fill="#111" stroke="#111" stroke-width="0.1" text-anchor="end">0.8</text>
<text x="378.7" y="157.6" font-family="'Liberation Serif', 'Times New Roman', serif" font-size="6.3" fill="#111" stroke="#111" stroke-width="0.1" text-anchor="end">1.0</text>
<text x="382.5" y="273.6" font-family="'Liberation Serif', 'Times New Roman', serif" font-size="6.6" fill="#111" stroke="#111" stroke-width="0.1" text-anchor="middle">100</text>
<text x="382.5" y="152.2" font-family="'Liberation Serif', 'Times New Roman', serif" font-size="6.6" fill="#111" stroke="#111" stroke-width="0.1" text-anchor="middle">16</text>
<text x="403.15" y="273.6" font-family="'Liberation Serif', 'Times New Roman', serif" font-size="6.6" fill="#111" stroke="#111" stroke-width="0.1" text-anchor="middle">120</text>
<text x="403.15" y="152.2" font-family="'Liberation Serif', 'Times New Roman', serif" font-size="6.6" fill="#111" stroke="#111" stroke-width="0.1" text-anchor="middle">36</text>
<text x="423.8" y="273.6" font-family="'Liberation Serif', 'Times New Roman', serif" font-size="6.6" fill="#111" stroke="#111" stroke-width="0.1" text-anchor="middle">140</text>
<text x="423.8" y="152.2" font-family="'Liberation Serif', 'Times New Roman', serif" font-size="6.6" fill="#111" stroke="#111" stroke-width="0.1" text-anchor="middle">56</text>
<text x="444.45" y="273.6" font-family="'Liberation Serif', 'Times New Roman', serif" font-size="6.6" fill="#111" stroke="#111" stroke-width="0.1" text-anchor="middle">160</text>
<text x="444.45" y="152.2" font-family="'Liberation Serif', 'Times New Roman', serif" font-size="6.6" fill="#111" stroke="#111" stroke-width="0.1" text-anchor="middle">76</text>
<text x="465.1" y="273.6" font-family="'Liberation Serif', 'Times New Roman', serif" font-size="6.6" fill="#111" stroke="#111" stroke-width="0.1" text-anchor="middle">180</text>
<text x="465.1" y="152.2" font-family="'Liberation Serif', 'Times New Roman', serif" font-size="6.6" fill="#111" stroke="#111" stroke-width="0.1" text-anchor="middle">96</text>
<text x="485.75" y="273.6" font-family="'Liberation Serif', 'Times New Roman', serif" font-size="6.6" fill="#111" stroke="#111" stroke-width="0.1" text-anchor="middle">200</text>
<text x="485.75" y="152.2" font-family="'Liberation Serif', 'Times New Roman', serif" font-size="6.6" fill="#111" stroke="#111" stroke-width="0.1" text-anchor="middle">116</text>
<text x="506.4" y="273.6" font-family="'Liberation Serif', 'Times New Roman', serif" font-size="6.6" fill="#111" stroke="#111" stroke-width="0.1" text-anchor="middle">220</text>
<text x="506.4" y="152.2" font-family="'Liberation Serif', 'Times New Roman', serif" font-size="6.6" fill="#111" stroke="#111" stroke-width="0.1" text-anchor="middle">136</text>
<text x="444" y="286.8" font-family="'Liberation Sans', Arial, sans-serif" font-size="8.57" fill="#1a1a1a" stroke="#1a1a1a" stroke-width="0.15" text-anchor="middle">Nanowire radius (nm)</text>
<text transform="translate(364.3,210.3) rotate(-90)" font-family="'Liberation Sans', Arial, sans-serif" font-size="8.5" fill="#1a1a1a" stroke="#1a1a1a" stroke-width="0.15" text-anchor="middle">Photon escape probability</text>
<path d="M382.5,179.6 C384.22,178.9 389.38,175.1 392.82,175.4 C396.27,175.7 399.71,178.63 403.15,181.4 C406.59,184.17 410.03,191.42 413.48,192 C416.92,192.58 420.36,185.97 423.8,184.9 C427.24,183.83 430.68,185.98 434.12,185.6 C437.57,185.22 441.01,181.82 444.45,182.6 C447.89,183.38 451.33,186.43 454.77,190.3 C458.22,194.17 461.66,203.75 465.1,205.8 C468.54,207.85 471.98,201.98 475.43,202.6 C478.87,203.22 482.31,207.67 485.75,209.5 C489.19,211.33 492.63,213.6 496.07,213.6 C499.52,213.6 502.96,209.1 506.4,209.5 C509.84,209.9 515,214.92 516.73,216" fill="none" stroke="#999" stroke-width="0.8" stroke-dasharray="1.4,1.2"/>
<circle cx="382.5" cy="179.6" r="1.5" fill="#fff" fill-opacity="0.6" stroke="#aaa" stroke-width="0.6"/>
<circle cx="392.82" cy="175.4" r="1.5" fill="#fff" fill-opacity="0.6" stroke="#aaa" stroke-width="0.6"/>
<circle cx="403.15" cy="181.4" r="1.5" fill="#fff" fill-opacity="0.6" stroke="#aaa" stroke-width="0.6"/>
<circle cx="413.48" cy="192" r="1.5" fill="#fff" fill-opacity="0.6" stroke="#aaa" stroke-width="0.6"/>
<circle cx="423.8" cy="184.9" r="1.5" fill="#fff" fill-opacity="0.6" stroke="#aaa" stroke-width="0.6"/>
<circle cx="434.12" cy="185.6" r="1.5" fill="#fff" fill-opacity="0.6" stroke="#aaa" stroke-width="0.6"/>
<circle cx="444.45" cy="182.6" r="1.5" fill="#fff" fill-opacity="0.6" stroke="#aaa" stroke-width="0.6"/>
<circle cx="454.77" cy="190.3" r="1.5" fill="#fff" fill-opacity="0.6" stroke="#aaa" stroke-width="0.6"/>
<circle cx="465.1" cy="205.8" r="1.5" fill="#fff" fill-opacity="0.6" stroke="#aaa" stroke-width="0.6"/>
<circle cx="475.43" cy="202.6" r="1.5" fill="#fff" fill-opacity="0.6" stroke="#aaa" stroke-width="0.6"/>
<circle cx="485.75" cy="209.5" r="1.5" fill="#fff" fill-opacity="0.6" stroke="#aaa" stroke-width="0.6"/>
<circle cx="496.07" cy="213.6" r="1.5" fill="#fff" fill-opacity="0.6" stroke="#aaa" stroke-width="0.6"/>
<circle cx="506.4" cy="209.5" r="1.5" fill="#fff" fill-opacity="0.6" stroke="#aaa" stroke-width="0.6"/>
<circle cx="516.73" cy="216" r="1.5" fill="#fff" fill-opacity="0.6" stroke="#aaa" stroke-width="0.6"/>
<path d="M382.5,172.4 C384.22,172.4 389.38,171.47 392.82,172.4 C396.27,173.33 399.71,177.8 403.15,178 C406.59,178.2 410.03,171.77 413.48,173.6 C416.92,175.43 420.36,188.2 423.8,189 C427.24,189.8 430.68,178.02 434.12,178.4 C437.57,178.78 441.01,190.78 444.45,191.3 C447.89,191.82 451.33,180.62 454.77,181.5 C458.22,182.38 461.66,194.95 465.1,196.6 C468.54,198.25 471.98,190.5 475.43,191.4 C478.87,192.3 482.31,196.77 485.75,202 C489.19,207.23 492.63,220.37 496.07,222.8 C499.52,225.23 502.96,216.63 506.4,216.6 C509.84,216.57 515,221.6 516.73,222.6" fill="none" stroke="#1a1a1a" stroke-width="1.1"/>
<circle cx="382.5" cy="172.4" r="1.35" fill="#111"/>
<circle cx="392.82" cy="172.4" r="1.35" fill="#111"/>
<circle cx="403.15" cy="178" r="1.35" fill="#111"/>
<circle cx="413.48" cy="173.6" r="1.35" fill="#111"/>
<circle cx="423.8" cy="189" r="1.35" fill="#111"/>
<circle cx="434.12" cy="178.4" r="1.35" fill="#111"/>
<circle cx="444.45" cy="191.3" r="1.35" fill="#111"/>
<circle cx="454.77" cy="181.5" r="1.35" fill="#111"/>
<circle cx="465.1" cy="196.6" r="1.35" fill="#111"/>
<circle cx="475.43" cy="191.4" r="1.35" fill="#111"/>
<circle cx="485.75" cy="202" r="1.35" fill="#111"/>
<circle cx="496.07" cy="222.8" r="1.35" fill="#111"/>
<circle cx="506.4" cy="216.6" r="1.35" fill="#111"/>
<circle cx="516.73" cy="222.6" r="1.35" fill="#111"/>
<path d="M382.5,216.3 C384.22,215.55 389.38,211.25 392.82,211.8 C396.27,212.35 399.71,219.3 403.15,219.6 C406.59,219.9 410.03,214.72 413.48,213.6 C416.92,212.48 420.36,212.9 423.8,212.9 C427.24,212.9 430.68,213.33 434.12,213.6 C437.57,213.87 441.01,212.73 444.45,214.5 C447.89,216.27 451.33,221.62 454.77,224.2 C458.22,226.78 461.66,228.2 465.1,230 C468.54,231.8 471.98,233.67 475.43,235 C478.87,236.33 482.31,237.12 485.75,238 C489.19,238.88 492.63,239.6 496.07,240.3 C499.52,241 502.96,241.58 506.4,242.2 C509.84,242.82 515,243.7 516.73,244" fill="none" stroke="#f27a80" stroke-width="0.8" stroke-dasharray="1.4,1.2"/>
<circle cx="382.5" cy="216.3" r="1.5" fill="#fff" fill-opacity="0.6" stroke="#f07078" stroke-width="0.6"/>
<circle cx="392.82" cy="211.8" r="1.5" fill="#fff" fill-opacity="0.6" stroke="#f07078" stroke-width="0.6"/>
<circle cx="403.15" cy="219.6" r="1.5" fill="#fff" fill-opacity="0.6" stroke="#f07078" stroke-width="0.6"/>
<circle cx="413.48" cy="213.6" r="1.5" fill="#fff" fill-opacity="0.6" stroke="#f07078" stroke-width="0.6"/>
<circle cx="423.8" cy="212.9" r="1.5" fill="#fff" fill-opacity="0.6" stroke="#f07078" stroke-width="0.6"/>
<circle cx="434.12" cy="213.6" r="1.5" fill="#fff" fill-opacity="0.6" stroke="#f07078" stroke-width="0.6"/>
<circle cx="444.45" cy="214.5" r="1.5" fill="#fff" fill-opacity="0.6" stroke="#f07078" stroke-width="0.6"/>
<circle cx="454.77" cy="224.2" r="1.5" fill="#fff" fill-opacity="0.6" stroke="#f07078" stroke-width="0.6"/>
<circle cx="465.1" cy="230" r="1.5" fill="#fff" fill-opacity="0.6" stroke="#f07078" stroke-width="0.6"/>
<circle cx="475.43" cy="235" r="1.5" fill="#fff" fill-opacity="0.6" stroke="#f07078" stroke-width="0.6"/>
<circle cx="485.75" cy="238" r="1.5" fill="#fff" fill-opacity="0.6" stroke="#f07078" stroke-width="0.6"/>
<circle cx="496.07" cy="240.3" r="1.5" fill="#fff" fill-opacity="0.6" stroke="#f07078" stroke-width="0.6"/>
<circle cx="506.4" cy="242.2" r="1.5" fill="#fff" fill-opacity="0.6" stroke="#f07078" stroke-width="0.6"/>
<circle cx="516.73" cy="244" r="1.5" fill="#fff" fill-opacity="0.6" stroke="#f07078" stroke-width="0.6"/>
<path d="M382.5,221 C384.22,220.45 389.38,217.82 392.82,217.7 C396.27,217.58 399.71,220.42 403.15,220.3 C406.59,220.18 410.03,217.67 413.48,217 C416.92,216.33 420.36,216.42 423.8,216.3 C427.24,216.18 430.68,216.02 434.12,216.3 C437.57,216.58 441.01,216.28 444.45,218 C447.89,219.72 451.33,224.27 454.77,226.6 C458.22,228.93 461.66,230.3 465.1,232 C468.54,233.7 471.98,235.55 475.43,236.8 C478.87,238.05 482.31,238.68 485.75,239.5 C489.19,240.32 492.63,240.98 496.07,241.7 C499.52,242.42 502.96,243.22 506.4,243.8 C509.84,244.38 515,244.97 516.73,245.2" fill="none" stroke="#e8202c" stroke-width="1"/>
<circle cx="382.5" cy="221" r="1.35" fill="#d8101c"/>
<circle cx="392.82" cy="217.7" r="1.35" fill="#d8101c"/>
<circle cx="413.48" cy="217" r="1.35" fill="#d8101c"/>
<circle cx="423.8" cy="216.3" r="1.35" fill="#d8101c"/>
<circle cx="434.12" cy="216.3" r="1.35" fill="#d8101c"/>
<circle cx="444.45" cy="218" r="1.35" fill="#d8101c"/>
<circle cx="454.77" cy="226.6" r="1.35" fill="#d8101c"/>
<circle cx="465.1" cy="232" r="1.35" fill="#d8101c"/>
<circle cx="475.43" cy="236.8" r="1.35" fill="#d8101c"/>
<circle cx="485.75" cy="239.5" r="1.35" fill="#d8101c"/>
<circle cx="496.07" cy="241.7" r="1.35" fill="#d8101c"/>
<circle cx="506.4" cy="243.8" r="1.35" fill="#d8101c"/>
<circle cx="516.73" cy="245.2" r="1.35" fill="#d8101c"/>
</svg>
</body></html>
